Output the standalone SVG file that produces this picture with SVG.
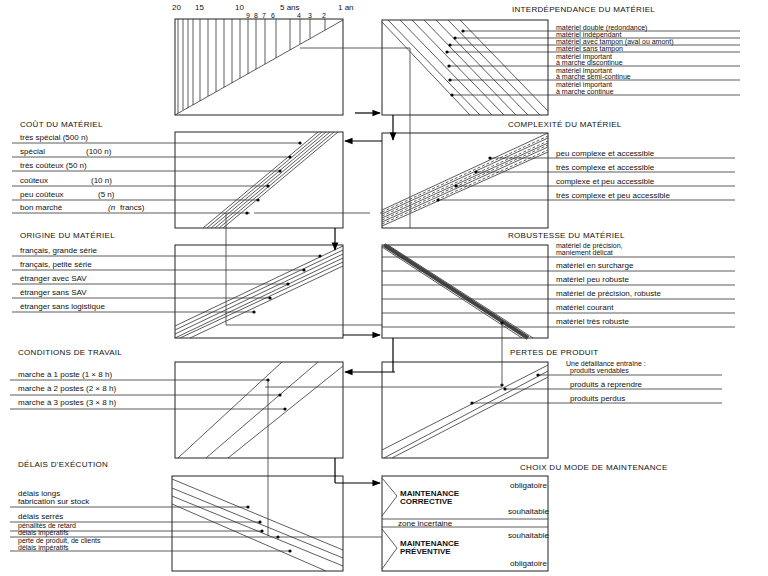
<svg xmlns="http://www.w3.org/2000/svg" width="768" height="576" viewBox="0 0 768 576">
<defs>
<marker id="ah" viewBox="0 0 10 10" refX="9" refY="5" markerWidth="7" markerHeight="7" orient="auto"><path d="M0,1 L10,5 L0,9 z" fill="#000"/></marker>
<style>
.p{fill:none;stroke:#222;stroke-width:1}
.l{fill:none;stroke:#333;stroke-width:0.8}
.t{font-family:"Liberation Sans",Arial,sans-serif;font-size:8px;fill:#111}
.s{font-family:"Liberation Sans",Arial,sans-serif;font-size:7px;fill:#111}
.h{font-family:"Liberation Sans",Arial,sans-serif;font-size:8px;fill:#111;letter-spacing:0.3px}
.c{fill:none;stroke:#000;stroke-width:1.2}
.d{fill:#000}
</style>
</defs>
<rect width="768" height="576" fill="#fff"/>

<g id="age">
<rect class="p" x="175" y="19" width="168" height="96"/>
<path class="l" d="M175,115 L343,20"/>
<g class="l">
<path d="M178,19V113M183,19V110M188,19V108M193,19V105M200,19V101M208,19V96M216,19V92M224,19V87M232,19V83M240,19V78M248,19V74M256,19V69M265,19V64M276,19V58M290,19V50M300,19V44M310,19V38M325,19V30"/>
</g>
<text class="t" x="172" y="10">20</text><text class="t" x="195" y="10">15</text><text class="t" x="235" y="10">10</text>
<text class="s" x="246" y="18">9</text><text class="s" x="254" y="18">8</text><text class="s" x="262" y="18">7</text><text class="s" x="271" y="18">6</text>
<text class="t" x="280" y="10">5 ans</text><text class="s" x="297" y="18">4</text><text class="s" x="308" y="18">3</text><text class="s" x="322" y="18">2</text><text class="t" x="338" y="10">1 an</text>
</g>

<g id="interdependance">
<rect class="p" x="382" y="20" width="166" height="95"/>
<path class="l" d="M382,22L470,115M388,20L480,115M400,20L492,115M412,20L504,115M424,20L516,115M436,20L528,115M448,20L540,115M460,20L548,111"/>
<text class="h" x="512" y="12">INTERDÉPENDANCE DU MATÉRIEL</text>
<g class="l"><path d="M463,31H740M455,38H740M450,45H740M447,52H740M449,66H740M450,80H740M452,95H740"/></g>
<g class="d"><circle cx="463" cy="31" r="1.6"/><circle cx="455" cy="38" r="1.6"/><circle cx="450" cy="45" r="1.6"/><circle cx="447" cy="52" r="1.6"/><circle cx="449" cy="66" r="1.6"/><circle cx="450" cy="80" r="1.6"/><circle cx="452" cy="95" r="1.6"/></g>
<text class="s" x="556" y="30">matériel double (redondance)</text>
<text class="s" x="556" y="37">matériel indépendant</text>
<text class="s" x="556" y="44">matériel avec tampon (aval ou amont)</text>
<text class="s" x="556" y="51">matériel sans tampon</text>
<text class="s" x="556" y="59">matériel important</text><text class="s" x="556" y="65">à marche discontinue</text>
<text class="s" x="556" y="73">matériel important</text><text class="s" x="556" y="79">à marche semi-continue</text>
<text class="s" x="556" y="87">matériel important</text><text class="s" x="556" y="94">à marche continue</text>
</g>

<g id="cout">
<rect class="p" x="175" y="132" width="168" height="96"/>
<path class="l" d="M203,228L318,132M207,228L322,132M211,228L326,132M215,228L330,132M219,228L334,132M223,228L338,132"/>
<text class="h" x="20" y="127">COÛT DU MATÉRIEL</text>
<g class="l"><path d="M12,143H300M12,157H290M12,171H280M12,186H268M12,200H258M12,213H250"/></g>
<g class="d"><circle cx="300" cy="143" r="1.6"/><circle cx="290" cy="157" r="1.6"/><circle cx="280" cy="171" r="1.6"/><circle cx="268" cy="186" r="1.6"/><circle cx="258" cy="200" r="1.6"/><circle cx="247" cy="213" r="1.6"/></g>
<text class="t" x="20" y="140">très spécial   (500 n)</text>
<text class="t" x="20" y="154">spécial</text><text class="t" x="86" y="154">(100 n)</text>
<text class="t" x="20" y="168">très coûteux   (50 n)</text>
<text class="t" x="20" y="183">coûteux</text><text class="t" x="91" y="183">(10 n)</text>
<text class="t" x="20" y="197">peu coûteux</text><text class="t" x="98" y="197">(5 n)</text>
<text class="t" x="20" y="210">bon marché</text><text class="t" x="108" y="210" font-style="italic">(n</text><text class="t" x="120" y="210">francs)</text>
</g>

<g id="complexite">
<rect class="p" x="382" y="133" width="166" height="95"/>
<path class="l" d="M382,210L548,133M382,214L548,138M382,218L548,143M382,222L548,147M382,226L548,152"/>
<path class="l" stroke-dasharray="3,2" d="M382,212L548,136M382,216L548,141M382,220L548,145M382,224L548,150"/>
<text class="h" x="508" y="127">COMPLEXITÉ DU MATÉRIEL</text>
<g class="l"><path d="M490,158H735M476,172H735M456,186H735M438,200H735"/></g>
<g class="d"><circle cx="490" cy="158" r="1.6"/><circle cx="476" cy="172" r="1.6"/><circle cx="456" cy="186" r="1.6"/><circle cx="438" cy="200" r="1.6"/></g>
<text class="t" x="556" y="156">peu complexe et accessible</text>
<text class="t" x="556" y="170">très complexe et accessible</text>
<text class="t" x="556" y="184">complexe et peu accessible</text>
<text class="t" x="556" y="198">très complexe et peu accessible</text>
</g>

<g id="origine">
<rect class="p" x="175" y="245" width="168" height="93"/>
<path class="l" d="M175,326L343,246M175,330L343,250M175,334L343,254M175,338L343,258M180,338L343,262M190,338L343,266"/>
<text class="h" x="20" y="238">ORIGINE DU MATÉRIEL</text>
<g class="l"><path d="M12,256H320M12,270H304M12,284H288M12,298H270M12,312H254"/></g>
<g class="d"><circle cx="320" cy="256" r="1.6"/><circle cx="304" cy="270" r="1.6"/><circle cx="288" cy="284" r="1.6"/><circle cx="270" cy="298" r="1.6"/><circle cx="254" cy="312" r="1.6"/></g>
<text class="t" x="20" y="253">français, grande série</text>
<text class="t" x="20" y="267">français, petite série</text>
<text class="t" x="20" y="281">étranger avec SAV</text>
<text class="t" x="20" y="295">étranger sans SAV</text>
<text class="t" x="20" y="309">étranger sans logistique</text>
</g>

<g id="robustesse">
<rect class="p" x="382" y="245" width="166" height="93"/>
<path d="M384,245L528,338" stroke="#444" stroke-width="4" fill="none"/>
<path class="l" d="M382,247L522,338M388,245L533,338"/>
<text class="h" x="508" y="238">ROBUSTESSE DU MATÉRIEL</text>
<g class="l"><path d="M382,257H735M382,271H735M382,285H735M382,299H735M382,313H735M382,327H735"/></g>
<circle class="d" cx="502" cy="323" r="1.6"/>
<text class="s" x="556" y="248">matériel de précision,</text><text class="s" x="556" y="255">maniement délicat</text>
<text class="t" x="556" y="268">matériel en surcharge</text>
<text class="t" x="556" y="282">matériel peu robuste</text>
<text class="t" x="556" y="296">matériel de précision, robuste</text>
<text class="t" x="556" y="310">matériel courant</text>
<text class="t" x="556" y="324">matériel très robuste</text>
</g>

<g id="conditions">
<rect class="p" x="175" y="362" width="168" height="96"/>
<path class="l" d="M178,458L282,362M206,458L318,362M228,458L343,366"/>
<text class="h" x="18" y="355">CONDITIONS DE TRAVAIL</text>
<g class="l"><path d="M10,380H268M10,395H280M10,409H285"/></g>
<g class="d"><circle cx="268" cy="380" r="1.6"/><circle cx="280" cy="395" r="1.6"/><circle cx="285" cy="409" r="1.6"/></g>
<text class="t" x="18" y="377">marche à 1 poste (1 × 8 h)</text>
<text class="t" x="18" y="391">marche à 2 postes (2 × 8 h)</text>
<text class="t" x="18" y="405">marche à 3 postes (3 × 8 h)</text>
</g>

<g id="pertes">
<rect class="p" x="382" y="362" width="166" height="96"/>
<path class="l" d="M382,450L548,365M384,458L548,371M392,458L548,377"/>
<text class="h" x="510" y="355">PERTES DE PRODUIT</text>
<g class="l"><path d="M538,375H722M505,389H722M472,403H722"/></g>
<g class="d"><circle cx="538" cy="375" r="1.6"/><circle cx="505" cy="389" r="1.6"/><circle cx="472" cy="403" r="1.6"/><circle cx="502" cy="385" r="1.6"/></g>
<text class="s" x="566" y="366">Une défaillance entraîne :</text>
<text class="s" x="570" y="373">produits vendables</text>
<text class="t" x="570" y="387">produits à reprendre</text>
<text class="t" x="570" y="401">produits perdus</text>
</g>

<g id="delais">
<rect class="p" x="172" y="476" width="171" height="95"/>
<path class="l" d="M172,479L343,550M172,488L343,558M172,496L343,566M172,504L326,571"/>
<text class="h" x="18" y="467">DÉLAIS D'EXÉCUTION</text>
<g class="l"><path d="M10,507H248M10,522H260M10,531H262M10,537H278M10,551H290"/></g>
<g class="d"><circle cx="248" cy="507" r="1.6"/><circle cx="260" cy="522" r="1.6"/><circle cx="262" cy="531" r="1.6"/><circle cx="278" cy="537" r="1.6"/><circle cx="290" cy="551" r="1.6"/></g>
<text class="t" x="18" y="496">délais longs</text>
<text class="t" x="18" y="504">fabrication sur stock</text>
<text class="t" x="18" y="519">délais serrés</text>
<text class="s" x="18" y="528">pénalités de retard</text>
<text class="s" x="18" y="535">délais impératifs</text>
<text class="s" x="18" y="543">perte de produit, de clients</text>
<text class="s" x="18" y="550">délais impératifs</text>
</g>

<g id="choix">
<rect class="p" x="382" y="476" width="166" height="95"/>
<path class="l" d="M382,478L397,496L382,516M382,529L397,548L382,569M382,519H548M382,527H548"/>
<text class="h" x="520" y="470">CHOIX DU MODE DE MAINTENANCE</text>
<text class="t" x="510" y="488">obligatoire</text>
<text class="t" x="400" y="496" font-weight="bold">MAINTENANCE</text>
<text class="t" x="400" y="504" font-weight="bold">CORRECTIVE</text>
<text class="t" x="508" y="514">souhaitable</text>
<text class="t" x="398" y="526">zone incertaine</text>
<text class="t" x="508" y="538">souhaitable</text>
<text class="t" x="400" y="546" font-weight="bold">MAINTENANCE</text>
<text class="t" x="400" y="554" font-weight="bold">PRÉVENTIVE</text>
<text class="t" x="510" y="566">obligatoire</text>
</g>

<g id="connectors">
<path class="l" d="M300,48H410V228"/>
<path class="l" d="M254,213H370M380,213H382"/>
<path class="l" d="M226,213V325"/>
<path class="l" d="M226,325H382"/>
<path class="l" d="M502,323V385M268,380V536"/>
<path class="l" d="M265,387H502"/>
<path class="l" d="M278,537H382"/>
<path class="c" d="M355,113H380" marker-end="url(#ah)"/>
<path class="c" d="M393,115V140" marker-end="url(#ah)"/>
<path class="c" d="M382,141H345" marker-end="url(#ah)"/>
<path class="c" d="M335,228V250" marker-end="url(#ah)"/>
<path class="c" d="M343,335H380" marker-end="url(#ah)"/>
<path class="c" d="M393,338V372M395,372H345" marker-end="url(#ah)"/>
<path class="c" d="M335,458V483M335,483H380" marker-end="url(#ah)"/>
</g>
</svg>
